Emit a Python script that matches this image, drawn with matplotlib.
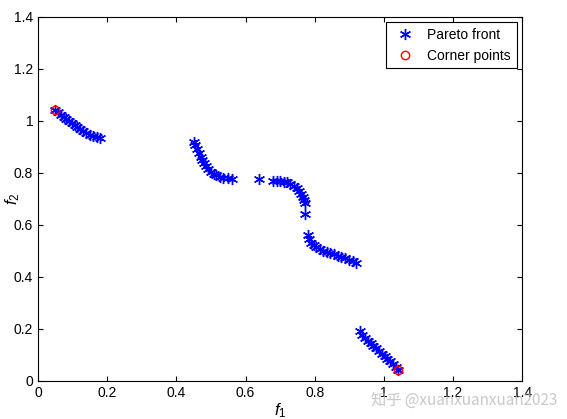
import matplotlib
matplotlib.use("Agg")
import matplotlib.pyplot as plt

plt.rcParams["font.family"] = ["Liberation Sans", "DejaVu Sans"]
plt.rcParams["mathtext.fontset"] = "custom"
plt.rcParams["mathtext.it"] = "Liberation Sans:italic"
plt.rcParams["mathtext.rm"] = "Liberation Sans"

# Pareto front samples
f1 = [0.050, 0.058, 0.066, 0.074, 0.082, 0.090, 0.098, 0.106, 0.114, 0.122, 0.130, 0.140, 0.150, 0.160, 0.170, 0.180,
      0.450, 0.455, 0.460, 0.465, 0.470, 0.475, 0.480, 0.486, 0.492, 0.500, 0.508, 0.516, 0.526, 0.536, 0.548, 0.560,
      0.640,
      0.680, 0.690, 0.700, 0.710, 0.720, 0.730, 0.740, 0.748, 0.755, 0.761, 0.765, 0.769, 0.771,
      0.773,
      0.780, 0.784, 0.790, 0.797, 0.805, 0.815, 0.825, 0.835, 0.845, 0.855, 0.866, 0.877, 0.888, 0.899, 0.910, 0.920,
      0.930, 0.938, 0.946, 0.954, 0.962, 0.970, 0.978, 0.986, 0.994, 1.002, 1.010, 1.018, 1.026, 1.034, 1.040]
f2 = [1.040, 1.032, 1.024, 1.016, 1.008, 1.000, 0.992, 0.984, 0.976, 0.968, 0.961, 0.954, 0.947, 0.941, 0.936, 0.932,
      0.920, 0.905, 0.890, 0.875, 0.862, 0.850, 0.838, 0.826, 0.815, 0.805, 0.797, 0.790, 0.785, 0.781, 0.779, 0.778,
      0.775,
      0.770, 0.769, 0.768, 0.766, 0.763, 0.758, 0.750, 0.741, 0.731, 0.720, 0.708, 0.695, 0.683,
      0.640,
      0.560, 0.545, 0.532, 0.522, 0.514, 0.507, 0.501, 0.496, 0.491, 0.486, 0.481, 0.476, 0.471, 0.466, 0.460, 0.452,
      0.190, 0.178, 0.166, 0.155, 0.145, 0.135, 0.125, 0.115, 0.105, 0.095, 0.085, 0.075, 0.065, 0.052, 0.042]
corner_x = [0.050, 1.040]
corner_y = [1.040, 0.042]
ticks = [0, 0.2, 0.4, 0.6, 0.8, 1, 1.2, 1.4]
tick_labels = ["0", "0.2", "0.4", "0.6", "0.8", "1", "1.2", "1.4"]

fig = plt.figure(figsize=(5.67, 4.19), dpi=100)
ax = fig.add_axes([0.067, 0.091, 0.854, 0.869])
ax.plot(f1, f2, marker=(6, 2, 0), color="blue", markersize=8, markeredgewidth=1.0,
        linestyle="none", label="Pareto front")
ax.plot(corner_x, corner_y, "o", markerfacecolor="none", markeredgecolor="red",
        markersize=6, linestyle="none", label="Corner points")
ax.set_xlim(0, 1.4)
ax.set_ylim(0, 1.4)
ax.set_xticks(ticks)
ax.set_xticklabels(tick_labels)
ax.set_yticks(ticks)
ax.set_yticklabels(tick_labels)
ax.tick_params(direction="in", labelsize=10, top=True, right=True)
ax.set_xlabel("$f_1$", fontsize=12, labelpad=1)
ax.set_ylabel("$f_2$", fontsize=12)
ax.yaxis.set_label_coords(-0.032, 0.5)
leg = ax.legend(loc="upper right", fontsize=10, fancybox=False, edgecolor="black",
                framealpha=1, handletextpad=0.6, borderaxespad=0.4)
leg.get_frame().set_linewidth(0.8)

fig.text(0.655, 0.035, "知乎 @xuanxuanxuan2023", fontsize=11, color="#bbbbbb", alpha=0.8,
         family=["Noto Sans CJK SC", "DejaVu Sans"])

fig.savefig("out.png", dpi=100)
